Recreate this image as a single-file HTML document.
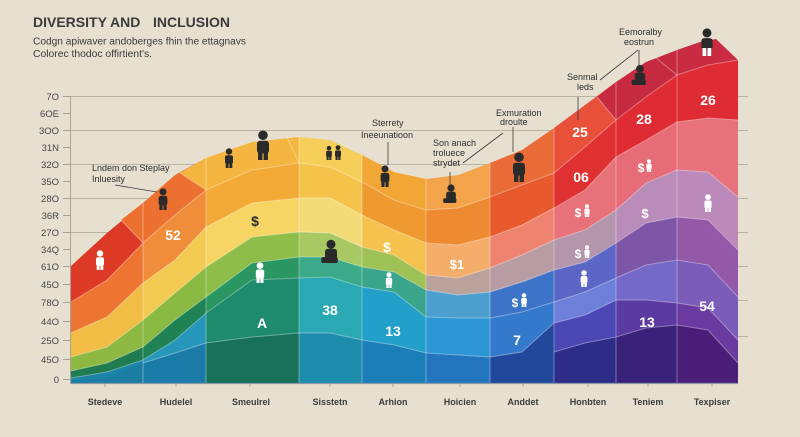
<!DOCTYPE html>
<html><head><meta charset="utf-8"><style>
html,body{margin:0;padding:0;background:#e7e0d1;}
svg{display:block;}
text{font-family:"Liberation Sans",sans-serif;}
</style></head><body>
<svg width="800" height="437" viewBox="0 0 800 437" xmlns="http://www.w3.org/2000/svg">
<defs>
<linearGradient id="g0" gradientUnits="userSpaceOnUse" x1="71" y1="0" x2="738" y2="0">
<stop offset="0" stop-color="#dc3a26"/><stop offset="0.1079" stop-color="#dc3a26"/>
<stop offset="0.1079" stop-color="#ec7130"/><stop offset="0.2024" stop-color="#ec7130"/>
<stop offset="0.2024" stop-color="#f4b640"/><stop offset="0.3418" stop-color="#f4b640"/>
<stop offset="0.3418" stop-color="#f6cf5a"/><stop offset="0.4363" stop-color="#f6cf5a"/>
<stop offset="0.4363" stop-color="#f2a636"/><stop offset="0.5322" stop-color="#f2a636"/>
<stop offset="0.5322" stop-color="#f3a44b"/><stop offset="0.6282" stop-color="#f3a44b"/>
<stop offset="0.6282" stop-color="#e96b38"/><stop offset="0.7241" stop-color="#e96b38"/>
<stop offset="0.7241" stop-color="#e9503a"/><stop offset="0.8171" stop-color="#e9503a"/>
<stop offset="0.8171" stop-color="#c62a40"/><stop offset="0.9085" stop-color="#c62a40"/>
<stop offset="0.9085" stop-color="#c92b42"/><stop offset="1" stop-color="#c92b42"/>
</linearGradient>
<linearGradient id="g1" gradientUnits="userSpaceOnUse" x1="71" y1="0" x2="738" y2="0">
<stop offset="0" stop-color="#ee7531"/><stop offset="0.1079" stop-color="#ee7531"/>
<stop offset="0.1079" stop-color="#f08d3b"/><stop offset="0.2024" stop-color="#f08d3b"/>
<stop offset="0.2024" stop-color="#f3a935"/><stop offset="0.3418" stop-color="#f3a935"/>
<stop offset="0.3418" stop-color="#f6c34a"/><stop offset="0.4363" stop-color="#f6c34a"/>
<stop offset="0.4363" stop-color="#ef9a30"/><stop offset="0.5322" stop-color="#ef9a30"/>
<stop offset="0.5322" stop-color="#ee8b32"/><stop offset="0.6282" stop-color="#ee8b32"/>
<stop offset="0.6282" stop-color="#e8592d"/><stop offset="0.7241" stop-color="#e8592d"/>
<stop offset="0.7241" stop-color="#df3131"/><stop offset="0.8171" stop-color="#df3131"/>
<stop offset="0.8171" stop-color="#df2b33"/><stop offset="1" stop-color="#df2b33"/>
</linearGradient>
<linearGradient id="g2" gradientUnits="userSpaceOnUse" x1="71" y1="0" x2="738" y2="0">
<stop offset="0" stop-color="#f2bd45"/><stop offset="0.1079" stop-color="#f2bd45"/>
<stop offset="0.1079" stop-color="#f4cb52"/><stop offset="0.2024" stop-color="#f4cb52"/>
<stop offset="0.2024" stop-color="#f6d564"/><stop offset="0.3418" stop-color="#f6d564"/>
<stop offset="0.3418" stop-color="#f3dc78"/><stop offset="0.4363" stop-color="#f3dc78"/>
<stop offset="0.4363" stop-color="#f5c24e"/><stop offset="0.5322" stop-color="#f5c24e"/>
<stop offset="0.5322" stop-color="#f4ad6b"/><stop offset="0.6282" stop-color="#f4ad6b"/>
<stop offset="0.6282" stop-color="#ee8470"/><stop offset="0.7241" stop-color="#ee8470"/>
<stop offset="0.7241" stop-color="#e7727a"/><stop offset="0.8171" stop-color="#e7727a"/>
<stop offset="0.8171" stop-color="#e66d78"/><stop offset="0.9085" stop-color="#e66d78"/>
<stop offset="0.9085" stop-color="#e8727b"/><stop offset="1" stop-color="#e8727b"/>
</linearGradient>
<linearGradient id="g3" gradientUnits="userSpaceOnUse" x1="71" y1="0" x2="738" y2="0">
<stop offset="0" stop-color="#8db842"/><stop offset="0.1079" stop-color="#8db842"/>
<stop offset="0.1079" stop-color="#8ab944"/><stop offset="0.2024" stop-color="#8ab944"/>
<stop offset="0.2024" stop-color="#8fbd4a"/><stop offset="0.3418" stop-color="#8fbd4a"/>
<stop offset="0.3418" stop-color="#a7c862"/><stop offset="0.4363" stop-color="#a7c862"/>
<stop offset="0.4363" stop-color="#9fc257"/><stop offset="0.5322" stop-color="#9fc257"/>
<stop offset="0.5322" stop-color="#b9a29c"/><stop offset="0.6282" stop-color="#b9a29c"/>
<stop offset="0.6282" stop-color="#b79ca4"/><stop offset="0.7241" stop-color="#b79ca4"/>
<stop offset="0.7241" stop-color="#b396ab"/><stop offset="0.8171" stop-color="#b396ab"/>
<stop offset="0.8171" stop-color="#ba8cba"/><stop offset="0.9085" stop-color="#ba8cba"/>
<stop offset="0.9085" stop-color="#bc89bb"/><stop offset="1" stop-color="#bc89bb"/>
</linearGradient>
<linearGradient id="g4" gradientUnits="userSpaceOnUse" x1="71" y1="0" x2="738" y2="0">
<stop offset="0" stop-color="#1f7b50"/><stop offset="0.1079" stop-color="#1f7b50"/>
<stop offset="0.1079" stop-color="#1f8254"/><stop offset="0.2024" stop-color="#1f8254"/>
<stop offset="0.2024" stop-color="#2a9661"/><stop offset="0.3418" stop-color="#2a9661"/>
<stop offset="0.3418" stop-color="#3aaa88"/><stop offset="0.4363" stop-color="#3aaa88"/>
<stop offset="0.4363" stop-color="#3ba58c"/><stop offset="0.5322" stop-color="#3ba58c"/>
<stop offset="0.5322" stop-color="#4d9fd0"/><stop offset="0.6282" stop-color="#4d9fd0"/>
<stop offset="0.6282" stop-color="#3e74c8"/><stop offset="0.7241" stop-color="#3e74c8"/>
<stop offset="0.7241" stop-color="#5b66c6"/><stop offset="0.8171" stop-color="#5b66c6"/>
<stop offset="0.8171" stop-color="#7e56a8"/><stop offset="0.9085" stop-color="#7e56a8"/>
<stop offset="0.9085" stop-color="#9358a8"/><stop offset="1" stop-color="#9358a8"/>
</linearGradient>
<linearGradient id="g5" gradientUnits="userSpaceOnUse" x1="71" y1="0" x2="738" y2="0">
<stop offset="0" stop-color="#1b82a8"/><stop offset="0.1079" stop-color="#1b82a8"/>
<stop offset="0.1079" stop-color="#2697ba"/><stop offset="0.2024" stop-color="#2697ba"/>
<stop offset="0.2024" stop-color="#1f8b6d"/><stop offset="0.3418" stop-color="#1f8b6d"/>
<stop offset="0.3418" stop-color="#2aa9b5"/><stop offset="0.4363" stop-color="#2aa9b5"/>
<stop offset="0.4363" stop-color="#22a0c9"/><stop offset="0.5322" stop-color="#22a0c9"/>
<stop offset="0.5322" stop-color="#2d96d5"/><stop offset="0.6282" stop-color="#2d96d5"/>
<stop offset="0.6282" stop-color="#3479cb"/><stop offset="0.7241" stop-color="#3479cb"/>
<stop offset="0.7241" stop-color="#6d7fd8"/><stop offset="0.8171" stop-color="#6d7fd8"/>
<stop offset="0.8171" stop-color="#7468c8"/><stop offset="0.9085" stop-color="#7468c8"/>
<stop offset="0.9085" stop-color="#7c5cb9"/><stop offset="1" stop-color="#7c5cb9"/>
</linearGradient>
<linearGradient id="g6" gradientUnits="userSpaceOnUse" x1="71" y1="0" x2="738" y2="0">
<stop offset="0" stop-color="#1b7ca4"/><stop offset="0.1079" stop-color="#1b7ca4"/>
<stop offset="0.1079" stop-color="#1b7ba8"/><stop offset="0.2024" stop-color="#1b7ba8"/>
<stop offset="0.2024" stop-color="#177259"/><stop offset="0.3418" stop-color="#177259"/>
<stop offset="0.3418" stop-color="#1e8cad"/><stop offset="0.4363" stop-color="#1e8cad"/>
<stop offset="0.4363" stop-color="#1c7eb6"/><stop offset="0.5322" stop-color="#1c7eb6"/>
<stop offset="0.5322" stop-color="#2376bd"/><stop offset="0.6282" stop-color="#2376bd"/>
<stop offset="0.6282" stop-color="#22489b"/><stop offset="0.7241" stop-color="#22489b"/>
<stop offset="0.7241" stop-color="#4b47b5"/><stop offset="0.8171" stop-color="#4b47b5"/>
<stop offset="0.8171" stop-color="#5b3ba1"/><stop offset="0.9085" stop-color="#5b3ba1"/>
<stop offset="0.9085" stop-color="#6b3aa0"/><stop offset="1" stop-color="#6b3aa0"/>
</linearGradient>
<linearGradient id="g7" gradientUnits="userSpaceOnUse" x1="71" y1="0" x2="738" y2="0">
<stop offset="0" stop-color="#1b7ca4"/><stop offset="0.1079" stop-color="#1b7ca4"/>
<stop offset="0.1079" stop-color="#1b7ba8"/><stop offset="0.2024" stop-color="#1b7ba8"/>
<stop offset="0.2024" stop-color="#177259"/><stop offset="0.3418" stop-color="#177259"/>
<stop offset="0.3418" stop-color="#1e8cad"/><stop offset="0.4363" stop-color="#1e8cad"/>
<stop offset="0.4363" stop-color="#1c7eb6"/><stop offset="0.5322" stop-color="#1c7eb6"/>
<stop offset="0.5322" stop-color="#2376bd"/><stop offset="0.6282" stop-color="#2376bd"/>
<stop offset="0.6282" stop-color="#22489b"/><stop offset="0.7241" stop-color="#22489b"/>
<stop offset="0.7241" stop-color="#2d2d88"/><stop offset="0.8171" stop-color="#2d2d88"/>
<stop offset="0.8171" stop-color="#3a227a"/><stop offset="0.9085" stop-color="#3a227a"/>
<stop offset="0.9085" stop-color="#4a1e78"/><stop offset="1" stop-color="#4a1e78"/>
</linearGradient>
<g id="p">
<circle cx="0" cy="-16.5" r="3.2"/>
<rect x="-4" y="-12.8" width="8" height="8.5" rx="2"/>
<rect x="-3.3" y="-5.5" width="2.9" height="5.5"/>
<rect x="0.4" y="-5.5" width="2.9" height="5.5"/>
</g>
<g id="s">
<circle cx="0" cy="-12.5" r="3"/>
<rect x="-4" y="-9.5" width="8" height="7.5" rx="2"/>
<rect x="-6.5" y="-4" width="11" height="4" rx="1.2"/>
</g>
</defs>

<!-- Title -->
<text x="33" y="27" font-size="14" font-weight="bold" fill="#3b3b3b">DIVERSITY AND</text>
<text x="153" y="27" font-size="14" font-weight="bold" fill="#3b3b3b">INCLUSION</text>
<text x="33" y="44.5" font-size="10" fill="#3a3a3a" textLength="213" lengthAdjust="spacingAndGlyphs">Codgn apiwaver andoberges fhin the ettagnavs</text>
<text x="33" y="57" font-size="10" fill="#3a3a3a" textLength="119" lengthAdjust="spacingAndGlyphs">Colorec thodoc offirtient's.</text>

<!-- gridlines -->
<g stroke="#b9b3a5" stroke-width="1">
<line x1="71" y1="96.5" x2="748" y2="96.5"/>
<line x1="71" y1="130.5" x2="748" y2="130.5"/>
<line x1="71" y1="164.5" x2="748" y2="164.5"/>
<line x1="71" y1="198.5" x2="748" y2="198.5"/>
<line x1="71" y1="232.5" x2="748" y2="232.5"/>
<line x1="71" y1="266.5" x2="748" y2="266.5"/>
<line x1="71" y1="300.5" x2="748" y2="300.5"/>
<line x1="71" y1="336.5" x2="748" y2="336.5"/>
</g>
<!-- left axis -->
<line x1="70.5" y1="96" x2="70.5" y2="384" stroke="#a8a294" stroke-width="1"/>
<g stroke="#a8a294" stroke-width="1">
<line x1="63" y1="96.5" x2="70" y2="96.5"/><line x1="63" y1="113.5" x2="70" y2="113.5"/>
<line x1="63" y1="130.5" x2="70" y2="130.5"/><line x1="63" y1="147.5" x2="70" y2="147.5"/>
<line x1="63" y1="164.5" x2="70" y2="164.5"/><line x1="63" y1="181.5" x2="70" y2="181.5"/>
<line x1="63" y1="198.5" x2="70" y2="198.5"/><line x1="63" y1="215.5" x2="70" y2="215.5"/>
<line x1="63" y1="232.5" x2="70" y2="232.5"/><line x1="63" y1="249.5" x2="70" y2="249.5"/>
<line x1="63" y1="266.5" x2="70" y2="266.5"/><line x1="63" y1="284.5" x2="70" y2="284.5"/>
<line x1="63" y1="302.5" x2="70" y2="302.5"/><line x1="63" y1="321.5" x2="70" y2="321.5"/>
<line x1="63" y1="340.5" x2="70" y2="340.5"/><line x1="63" y1="359.5" x2="70" y2="359.5"/>
<line x1="63" y1="379.5" x2="70" y2="379.5"/>
</g>
<g font-size="9.5" fill="#454545" text-anchor="end">
<text x="59" y="100">7O</text><text x="59" y="117">6OE</text><text x="59" y="134">3OO</text>
<text x="59" y="151">31N</text><text x="59" y="168">32O</text><text x="59" y="185">35O</text>
<text x="59" y="202">28O</text><text x="59" y="219">36R</text><text x="59" y="236">27O</text>
<text x="59" y="253">34Q</text><text x="59" y="270">61O</text><text x="59" y="288">45O</text>
<text x="59" y="306">78O</text><text x="59" y="325">44O</text><text x="59" y="344">25O</text>
<text x="59" y="363">45O</text><text x="59" y="383">0</text>
</g>

<!-- bands -->
<polygon fill="url(#g0)" points="71,266 107,233 143,203 175,175 206,158 252,142 299,137 330,140 362,155 394,172 426,179 458,175 490,163 522,150 554,128 585,105 616,82 646,62 677,50 700,42 716,39 738,60 738,383 71,383"/>
<polygon fill="#ec7130" points="121,220 143,203 143,243"/>
<polygon fill="#f4b640" points="180,173 206,158 206,190"/>
<polygon fill="#c62a40" points="597,97 616,82 616,120"/>
<polygon fill="url(#g1)" points="71,302 107,280 143,243 175,215 206,190 252,170 299,163 330,167 362,182 394,200 426,210 458,208 490,197 522,185 554,173 585,147 616,120 646,97 677,75 708,65 738,60 738,383 71,383"/>
<polygon fill="url(#g2)" points="71,333 107,317 143,283 175,260 206,227 252,203 299,198 330,198 362,215 394,230 426,243 458,245 490,237 522,225 554,208 585,190 616,157 646,140 677,122 708,118 738,120 738,383 71,383"/>
<polygon fill="url(#g3)" points="71,357 107,347 143,320 175,293 206,267 252,237 299,232 330,233 362,247 394,255 426,275 458,278 490,268 522,255 554,240 585,230 616,210 646,183 677,170 708,172 738,197 738,383 71,383"/>
<polygon fill="url(#g4)" points="71,371 107,363 143,347 175,320 206,297 252,263 299,257 330,257 362,267 394,272 426,290 458,295 490,292 522,282 554,270 585,262 616,243 646,223 677,217 708,220 738,250 738,383 71,383"/>
<polygon fill="url(#g5)" points="71,378 107,372 143,360 175,340 206,313 252,280 299,278 330,277 362,287 394,292 426,317 458,318 490,318 522,312 554,302 585,292 616,278 646,265 677,260 708,265 738,297 738,383 71,383"/>
<polygon fill="url(#g6)" points="71,381 107,378 143,363 175,353 206,343 252,337 299,333 330,333 362,340 394,345 426,353 458,355 490,357 522,352 554,323 585,315 616,300 646,300 677,303 708,308 738,340 738,383 71,383"/>
<polygon fill="url(#g7)" points="71,382 107,380 143,373 175,368 206,363 252,360 299,358 330,358 362,362 394,364 426,368 458,369 490,370 522,368 554,352 585,343 616,337 646,328 677,325 708,330 738,363 738,383 71,383"/>

<!-- band outlines -->
<g fill="none" stroke="#ffffff" stroke-opacity="0.35" stroke-width="1">
<polyline points="71,302 107,280 143,243 175,215 206,190 252,170 299,163 330,167 362,182 394,200 426,210 458,208 490,197 522,185 554,173 585,147 616,120 646,97 677,75 708,65 738,60"/>
<polyline points="71,333 107,317 143,283 175,260 206,227 252,203 299,198 330,198 362,215 394,230 426,243 458,245 490,237 522,225 554,208 585,190 616,157 646,140 677,122 708,118 738,120"/>
<polyline points="71,357 107,347 143,320 175,293 206,267 252,237 299,232 330,233 362,247 394,255 426,275 458,278 490,268 522,255 554,240 585,230 616,210 646,183 677,170 708,172 738,197"/>
<polyline points="71,371 107,363 143,347 175,320 206,297 252,263 299,257 330,257 362,267 394,272 426,290 458,295 490,292 522,282 554,270 585,262 616,243 646,223 677,217 708,220 738,250"/>
<polyline points="71,378 107,372 143,360 175,340 206,313 252,280 299,278 330,277 362,287 394,292 426,317 458,318 490,318 522,312 554,302 585,292 616,278 646,265 677,260 708,265 738,297"/>
<polyline points="143,363 175,353 206,343 252,337 299,333 330,333 362,340 394,345 426,353 458,355 490,357 522,352 554,323 585,315 616,300 646,300 677,303 708,308 738,340"/>
<polyline points="554,352 585,343 616,337 646,328 677,325 708,330 738,363"/>
<line x1="121" y1="220" x2="143" y2="243"/>
<line x1="180" y1="173" x2="206" y2="190"/>
<line x1="287" y1="137" x2="299" y2="163"/>
<line x1="597" y1="97" x2="616" y2="120"/>
<line x1="655" y1="57" x2="677" y2="75"/>
<line x1="143" y1="203" x2="143" y2="383"/>
<line x1="206" y1="158" x2="206" y2="383"/>
<line x1="299" y1="137" x2="299" y2="383"/>
<line x1="362" y1="155" x2="362" y2="383"/>
<line x1="426" y1="179" x2="426" y2="383"/>
<line x1="490" y1="163" x2="490" y2="383"/>
<line x1="554" y1="128" x2="554" y2="383"/>
<line x1="616" y1="82" x2="616" y2="383"/>
<line x1="677" y1="50" x2="677" y2="383"/>
</g>

<!-- bottom axis -->
<line x1="71" y1="383.5" x2="738" y2="383.5" stroke="#8a9aa8" stroke-width="1.2"/>
<g stroke="#a8a294" stroke-width="1">
<line x1="105" y1="384" x2="105" y2="387"/><line x1="176" y1="384" x2="176" y2="387"/>
<line x1="250" y1="384" x2="250" y2="387"/><line x1="330" y1="384" x2="330" y2="387"/>
<line x1="393" y1="384" x2="393" y2="387"/><line x1="460" y1="384" x2="460" y2="387"/>
<line x1="523" y1="384" x2="523" y2="387"/><line x1="588" y1="384" x2="588" y2="387"/>
<line x1="648" y1="384" x2="648" y2="387"/><line x1="712" y1="384" x2="712" y2="387"/>
</g>
<g font-size="9" font-weight="bold" fill="#3c3c3c" text-anchor="middle">
<text x="105" y="405">Stedeve</text><text x="176" y="405">Hudelel</text>
<text x="251" y="405">Smeulrel</text><text x="330" y="405">Sisstetn</text>
<text x="393" y="405">Arhion</text><text x="460" y="405">Hoicien</text>
<text x="523" y="405">Anddet</text><text x="588" y="405">Honbten</text>
<text x="648" y="405">Teniem</text><text x="712" y="405">Texpiser</text>
</g>

<!-- numbers -->
<g font-size="14" font-weight="bold" fill="#ffffff" text-anchor="middle">
<text x="173" y="240">52</text><text x="262" y="328">A</text>
<text x="330" y="315">38</text><text x="393" y="336">13</text>
<text x="517" y="345">7</text><text x="457" y="269" font-size="13">$1</text>
<text x="580" y="137">25</text><text x="581" y="182">06</text>
<text x="644" y="124">28</text><text x="708" y="105">26</text>
<text x="647" y="327">13</text><text x="707" y="311">54</text>
</g>

<!-- white icons -->
<g fill="#ffffff">
<use href="#p" transform="translate(100,270)"/>
<use href="#p" transform="translate(260,283) scale(1.05)"/>
<use href="#p" transform="translate(584,287) scale(0.85)"/>
<use href="#p" transform="translate(587,217) scale(0.65)"/>
<use href="#p" transform="translate(649,172) scale(0.65)"/>
<use href="#p" transform="translate(587,258) scale(0.65)"/>
<use href="#p" transform="translate(524,307) scale(0.7)"/>
<use href="#p" transform="translate(389,288) scale(0.8)"/>
<use href="#p" transform="translate(708,212) scale(0.9)"/>
</g>
<g font-size="12" font-weight="bold" fill="#ffffff" text-anchor="middle">
<text x="578" y="217">$</text><text x="641" y="172">$</text>
<text x="578" y="258">$</text><text x="515" y="307">$</text>
<text x="387" y="252" font-size="14">$</text><text x="645" y="218" font-size="13">$</text>
</g>
<text x="255" y="226" font-size="14" font-weight="bold" fill="#2a2a2a" text-anchor="middle">$</text>

<!-- black people -->
<g fill="#2a2a2a">
<use href="#p" transform="translate(163,210) scale(1.1)"/>
<use href="#p" transform="translate(229,168)"/>
<use href="#p" transform="translate(263,160) scale(1.5)"/>
<use href="#p" transform="translate(329,160) scale(0.72)"/>
<use href="#p" transform="translate(338,160) scale(0.75)"/>
<use href="#p" transform="translate(385,187) scale(1.1)"/>
<use href="#p" transform="translate(519,182) scale(1.5)"/>
<use href="#p" transform="translate(707,56) scale(1.4)"/>
<use href="#s" transform="translate(451,203) scale(1.2)"/>
<use href="#s" transform="translate(640,85) scale(1.3)"/>
<use href="#s" transform="translate(331,263) scale(1.5)"/>
</g>
<rect x="702.5" y="48" width="3.8" height="8" fill="#ffffff"/>
<rect x="707.5" y="48" width="3.8" height="8" fill="#ffffff"/>

<!-- annotations -->
<g font-size="9" fill="#2e2e2e">
<text x="92" y="171">Lndem don Steplay</text>
<text x="92" y="182">Inluesity</text>
<text x="372" y="126">Sterrety</text>
<text x="361" y="138">Ineeunatioon</text>
<text x="433" y="146">Son anach</text>
<text x="433" y="156">troluece</text>
<text x="433" y="166">strydet</text>
<text x="496" y="116">Exmuration</text>
<text x="500" y="125">droulte</text>
<text x="567" y="80">Senmal</text>
<text x="577" y="90">leds</text>
<text x="619" y="35">Eemoralby</text>
<text x="624" y="45">eostrun</text>
</g>
<g stroke="#3a3a3a" stroke-width="0.8" fill="none">
<line x1="115" y1="185" x2="157" y2="192"/>
<line x1="388" y1="142" x2="388" y2="165"/>
<line x1="463" y1="163" x2="503" y2="133"/>
<line x1="513" y1="127" x2="513" y2="152"/>
<line x1="578" y1="97" x2="578" y2="120"/>
<line x1="600" y1="80" x2="638" y2="50"/>
<line x1="639" y1="50" x2="639" y2="68"/>
<line x1="450" y1="172" x2="450" y2="186"/>
</g>
</svg>
</body></html>
